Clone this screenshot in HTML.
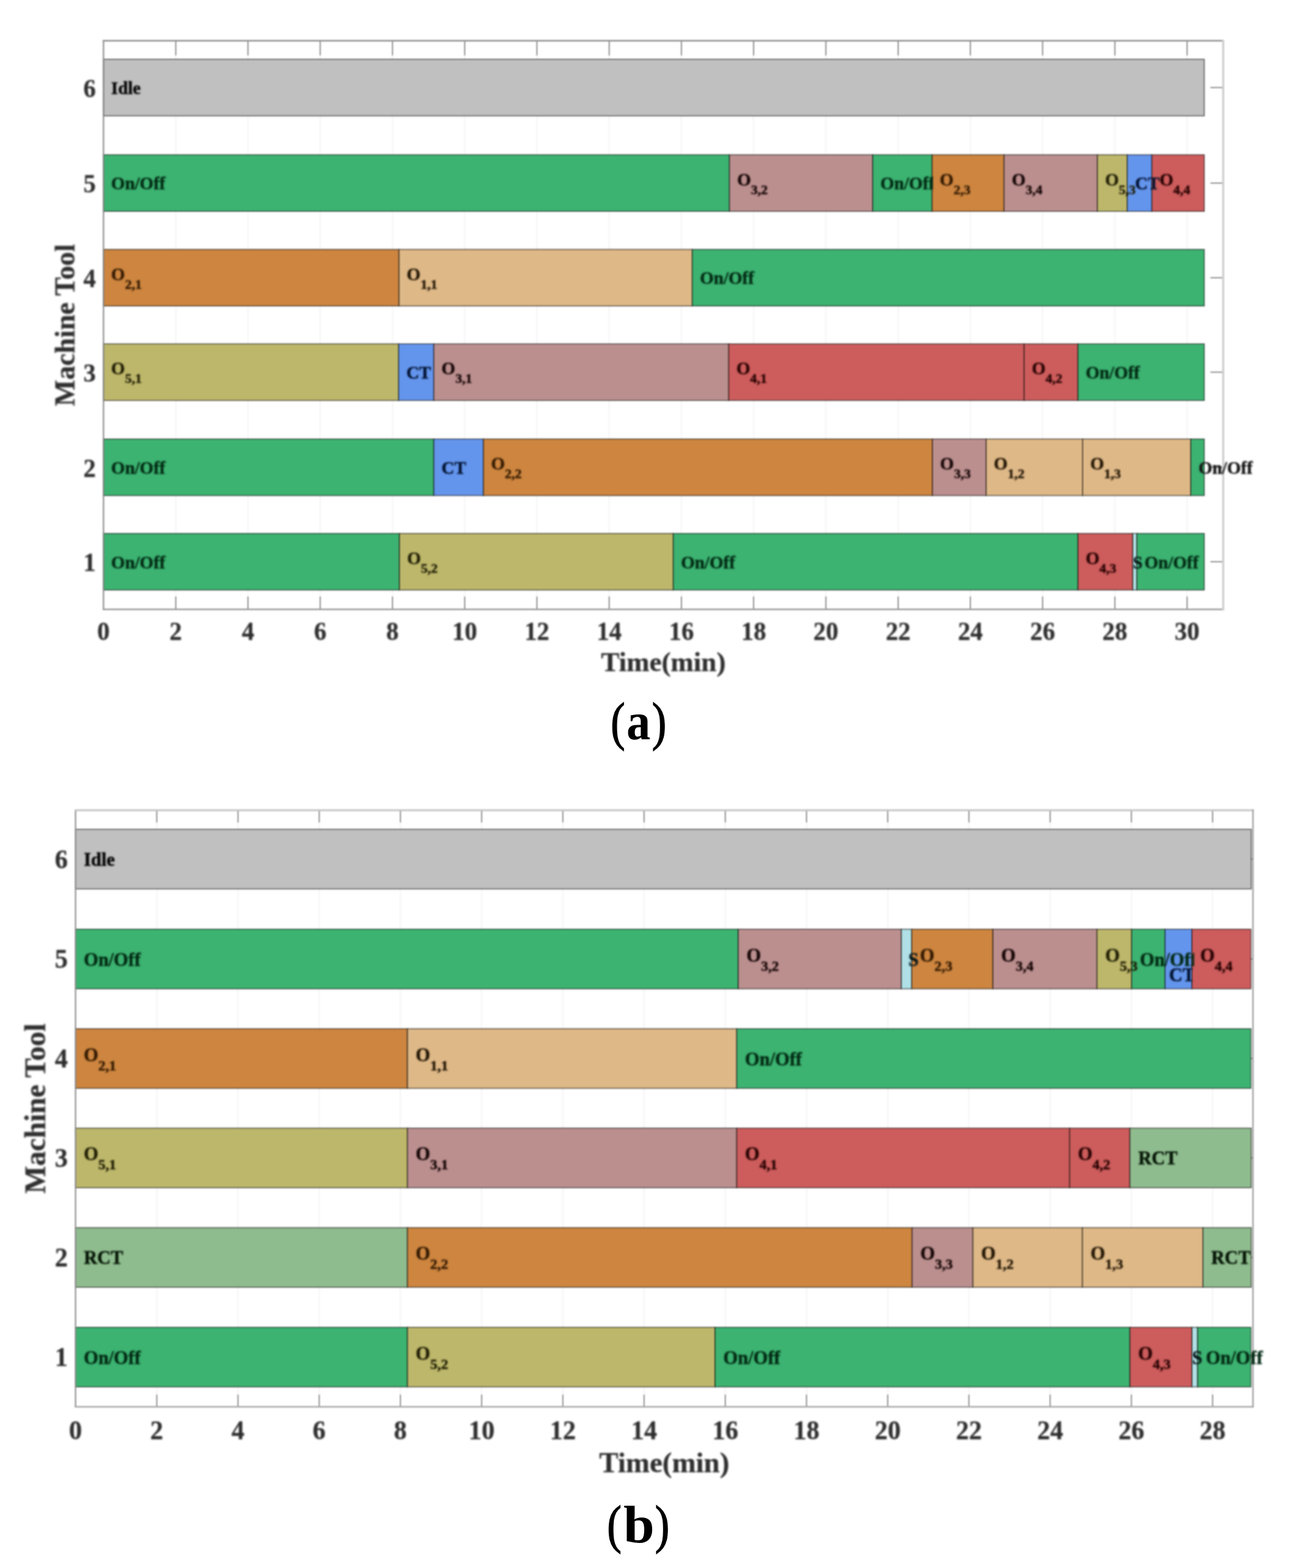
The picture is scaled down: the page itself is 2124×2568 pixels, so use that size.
<!DOCTYPE html>
<html lang="en">
<head>
<meta charset="utf-8">
<title>Gantt charts of machine tool scheduling</title>
<style>
html,body{margin:0;padding:0;background:#fff;}
body{width:2124px;height:2568px;overflow:hidden;}
svg{display:block;}
text{font-family:"Liberation Serif","DejaVu Serif",serif;}
.b{font-weight:bold;stroke-width:0.55px;stroke-linejoin:round;}
.t{font-weight:bold;fill:#2e2e2e;stroke:#2e2e2e;stroke-width:0.3px;}
.c{fill:#000;}
</style>
</head>
<body>
<svg width="2124" height="2568" viewBox="0 0 2124 2568">
<defs>
<filter id="soft" x="0" y="0" width="2124" height="2568" filterUnits="userSpaceOnUse" color-interpolation-filters="sRGB"><feGaussianBlur stdDeviation="1.0"/></filter>
<filter id="softer" x="0" y="0" width="2124" height="2568" filterUnits="userSpaceOnUse" color-interpolation-filters="sRGB"><feGaussianBlur stdDeviation="1.5"/></filter>
</defs>
<rect width="2124" height="2568" fill="#ffffff"/>
<g filter="url(#soft)">
<rect width="2124" height="2568" fill="#ffffff"/>
<g id="chart-a-shapes">
<line x1="287.8" y1="66.8" x2="287.8" y2="998.0" stroke="#f4f4f4" stroke-width="2"/>
<line x1="406.1" y1="66.8" x2="406.1" y2="998.0" stroke="#f4f4f4" stroke-width="2"/>
<line x1="524.4" y1="66.8" x2="524.4" y2="998.0" stroke="#f4f4f4" stroke-width="2"/>
<line x1="642.7" y1="66.8" x2="642.7" y2="998.0" stroke="#f4f4f4" stroke-width="2"/>
<line x1="761.0" y1="66.8" x2="761.0" y2="998.0" stroke="#f4f4f4" stroke-width="2"/>
<line x1="879.3" y1="66.8" x2="879.3" y2="998.0" stroke="#f4f4f4" stroke-width="2"/>
<line x1="997.6" y1="66.8" x2="997.6" y2="998.0" stroke="#f4f4f4" stroke-width="2"/>
<line x1="1115.9" y1="66.8" x2="1115.9" y2="998.0" stroke="#f4f4f4" stroke-width="2"/>
<line x1="1234.2" y1="66.8" x2="1234.2" y2="998.0" stroke="#f4f4f4" stroke-width="2"/>
<line x1="1352.5" y1="66.8" x2="1352.5" y2="998.0" stroke="#f4f4f4" stroke-width="2"/>
<line x1="1470.8" y1="66.8" x2="1470.8" y2="998.0" stroke="#f4f4f4" stroke-width="2"/>
<line x1="1589.1" y1="66.8" x2="1589.1" y2="998.0" stroke="#f4f4f4" stroke-width="2"/>
<line x1="1707.4" y1="66.8" x2="1707.4" y2="998.0" stroke="#f4f4f4" stroke-width="2"/>
<line x1="1825.7" y1="66.8" x2="1825.7" y2="998.0" stroke="#f4f4f4" stroke-width="2"/>
<line x1="1944.0" y1="66.8" x2="1944.0" y2="998.0" stroke="#f4f4f4" stroke-width="2"/>
<line x1="287.8" y1="998.0" x2="287.8" y2="977.0" stroke="#777" stroke-width="1.6"/>
<line x1="287.8" y1="66.8" x2="287.8" y2="90.8" stroke="#777" stroke-width="1.6"/>
<line x1="406.1" y1="998.0" x2="406.1" y2="977.0" stroke="#777" stroke-width="1.6"/>
<line x1="406.1" y1="66.8" x2="406.1" y2="90.8" stroke="#777" stroke-width="1.6"/>
<line x1="524.4" y1="998.0" x2="524.4" y2="977.0" stroke="#777" stroke-width="1.6"/>
<line x1="524.4" y1="66.8" x2="524.4" y2="90.8" stroke="#777" stroke-width="1.6"/>
<line x1="642.7" y1="998.0" x2="642.7" y2="977.0" stroke="#777" stroke-width="1.6"/>
<line x1="642.7" y1="66.8" x2="642.7" y2="90.8" stroke="#777" stroke-width="1.6"/>
<line x1="761.0" y1="998.0" x2="761.0" y2="977.0" stroke="#777" stroke-width="1.6"/>
<line x1="761.0" y1="66.8" x2="761.0" y2="90.8" stroke="#777" stroke-width="1.6"/>
<line x1="879.3" y1="998.0" x2="879.3" y2="977.0" stroke="#777" stroke-width="1.6"/>
<line x1="879.3" y1="66.8" x2="879.3" y2="90.8" stroke="#777" stroke-width="1.6"/>
<line x1="997.6" y1="998.0" x2="997.6" y2="977.0" stroke="#777" stroke-width="1.6"/>
<line x1="997.6" y1="66.8" x2="997.6" y2="90.8" stroke="#777" stroke-width="1.6"/>
<line x1="1115.9" y1="998.0" x2="1115.9" y2="977.0" stroke="#777" stroke-width="1.6"/>
<line x1="1115.9" y1="66.8" x2="1115.9" y2="90.8" stroke="#777" stroke-width="1.6"/>
<line x1="1234.2" y1="998.0" x2="1234.2" y2="977.0" stroke="#777" stroke-width="1.6"/>
<line x1="1234.2" y1="66.8" x2="1234.2" y2="90.8" stroke="#777" stroke-width="1.6"/>
<line x1="1352.5" y1="998.0" x2="1352.5" y2="977.0" stroke="#777" stroke-width="1.6"/>
<line x1="1352.5" y1="66.8" x2="1352.5" y2="90.8" stroke="#777" stroke-width="1.6"/>
<line x1="1470.8" y1="998.0" x2="1470.8" y2="977.0" stroke="#777" stroke-width="1.6"/>
<line x1="1470.8" y1="66.8" x2="1470.8" y2="90.8" stroke="#777" stroke-width="1.6"/>
<line x1="1589.1" y1="998.0" x2="1589.1" y2="977.0" stroke="#777" stroke-width="1.6"/>
<line x1="1589.1" y1="66.8" x2="1589.1" y2="90.8" stroke="#777" stroke-width="1.6"/>
<line x1="1707.4" y1="998.0" x2="1707.4" y2="977.0" stroke="#777" stroke-width="1.6"/>
<line x1="1707.4" y1="66.8" x2="1707.4" y2="90.8" stroke="#777" stroke-width="1.6"/>
<line x1="1825.7" y1="998.0" x2="1825.7" y2="977.0" stroke="#777" stroke-width="1.6"/>
<line x1="1825.7" y1="66.8" x2="1825.7" y2="90.8" stroke="#777" stroke-width="1.6"/>
<line x1="1944.0" y1="998.0" x2="1944.0" y2="977.0" stroke="#777" stroke-width="1.6"/>
<line x1="1944.0" y1="66.8" x2="1944.0" y2="90.8" stroke="#777" stroke-width="1.6"/>
<line x1="2003.2" y1="143.4" x2="1982.2" y2="143.4" stroke="#777" stroke-width="1.6"/>
<line x1="2003.2" y1="299.8" x2="1982.2" y2="299.8" stroke="#777" stroke-width="1.6"/>
<line x1="2003.2" y1="454.8" x2="1982.2" y2="454.8" stroke="#777" stroke-width="1.6"/>
<line x1="2003.2" y1="609.5" x2="1982.2" y2="609.5" stroke="#777" stroke-width="1.6"/>
<line x1="2003.2" y1="765.3" x2="1982.2" y2="765.3" stroke="#777" stroke-width="1.6"/>
<line x1="2003.2" y1="920.0" x2="1982.2" y2="920.0" stroke="#777" stroke-width="1.6"/>
<rect x="169.5" y="97.1" width="1802.7" height="92.6" fill="#c0c0c0" stroke="#000" stroke-opacity="0.5" stroke-width="1.8"/>
<rect x="169.5" y="253.5" width="1025.1" height="92.6" fill="#3cb371" stroke="#000" stroke-opacity="0.5" stroke-width="1.8"/>
<rect x="1194.6" y="253.5" width="234.6" height="92.6" fill="#bc8f8f" stroke="#000" stroke-opacity="0.5" stroke-width="1.8"/>
<rect x="1429.2" y="253.5" width="97.3" height="92.6" fill="#3cb371" stroke="#000" stroke-opacity="0.5" stroke-width="1.8"/>
<rect x="1526.5" y="253.5" width="117.8" height="92.6" fill="#cd853f" stroke="#000" stroke-opacity="0.5" stroke-width="1.8"/>
<rect x="1644.3" y="253.5" width="152.9" height="92.6" fill="#bc8f8f" stroke="#000" stroke-opacity="0.5" stroke-width="1.8"/>
<rect x="1797.2" y="253.5" width="48.9" height="92.6" fill="#bdb76b" stroke="#000" stroke-opacity="0.5" stroke-width="1.8"/>
<rect x="1846.1" y="253.5" width="40.3" height="92.6" fill="#6495ed" stroke="#000" stroke-opacity="0.5" stroke-width="1.8"/>
<rect x="1886.4" y="253.5" width="85.8" height="92.6" fill="#cd5c5c" stroke="#000" stroke-opacity="0.5" stroke-width="1.8"/>
<rect x="169.5" y="408.5" width="484.0" height="92.6" fill="#cd853f" stroke="#000" stroke-opacity="0.5" stroke-width="1.8"/>
<rect x="653.5" y="408.5" width="480.2" height="92.6" fill="#deb887" stroke="#000" stroke-opacity="0.5" stroke-width="1.8"/>
<rect x="1133.7" y="408.5" width="838.5" height="92.6" fill="#3cb371" stroke="#000" stroke-opacity="0.5" stroke-width="1.8"/>
<rect x="169.5" y="563.2" width="483.3" height="92.6" fill="#bdb76b" stroke="#000" stroke-opacity="0.5" stroke-width="1.8"/>
<rect x="652.8" y="563.2" width="57.7" height="92.6" fill="#6495ed" stroke="#000" stroke-opacity="0.5" stroke-width="1.8"/>
<rect x="710.5" y="563.2" width="482.9" height="92.6" fill="#bc8f8f" stroke="#000" stroke-opacity="0.5" stroke-width="1.8"/>
<rect x="1193.4" y="563.2" width="483.8" height="92.6" fill="#cd5c5c" stroke="#000" stroke-opacity="0.5" stroke-width="1.8"/>
<rect x="1677.2" y="563.2" width="88.1" height="92.6" fill="#cd5c5c" stroke="#000" stroke-opacity="0.5" stroke-width="1.8"/>
<rect x="1765.3" y="563.2" width="206.9" height="92.6" fill="#3cb371" stroke="#000" stroke-opacity="0.5" stroke-width="1.8"/>
<rect x="169.5" y="719.0" width="541.0" height="92.6" fill="#3cb371" stroke="#000" stroke-opacity="0.5" stroke-width="1.8"/>
<rect x="710.5" y="719.0" width="81.2" height="92.6" fill="#6495ed" stroke="#000" stroke-opacity="0.5" stroke-width="1.8"/>
<rect x="791.7" y="719.0" width="735.3" height="92.6" fill="#cd853f" stroke="#000" stroke-opacity="0.5" stroke-width="1.8"/>
<rect x="1527.0" y="719.0" width="88.0" height="92.6" fill="#bc8f8f" stroke="#000" stroke-opacity="0.5" stroke-width="1.8"/>
<rect x="1615.0" y="719.0" width="157.9" height="92.6" fill="#deb887" stroke="#000" stroke-opacity="0.5" stroke-width="1.8"/>
<rect x="1772.9" y="719.0" width="177.2" height="92.6" fill="#deb887" stroke="#000" stroke-opacity="0.5" stroke-width="1.8"/>
<rect x="1950.1" y="719.0" width="22.1" height="92.6" fill="#3cb371" stroke="#000" stroke-opacity="0.5" stroke-width="1.8"/>
<rect x="169.5" y="873.7" width="484.7" height="92.6" fill="#3cb371" stroke="#000" stroke-opacity="0.5" stroke-width="1.8"/>
<rect x="654.2" y="873.7" width="448.4" height="92.6" fill="#bdb76b" stroke="#000" stroke-opacity="0.5" stroke-width="1.8"/>
<rect x="1102.6" y="873.7" width="662.7" height="92.6" fill="#3cb371" stroke="#000" stroke-opacity="0.5" stroke-width="1.8"/>
<rect x="1765.3" y="873.7" width="89.8" height="92.6" fill="#cd5c5c" stroke="#000" stroke-opacity="0.5" stroke-width="1.8"/>
<rect x="1855.1" y="873.7" width="6.6" height="92.6" fill="#b0e0e6" stroke="#000" stroke-opacity="0.5" stroke-width="1.8"/>
<rect x="1861.7" y="873.7" width="110.5" height="92.6" fill="#3cb371" stroke="#000" stroke-opacity="0.5" stroke-width="1.8"/>
<line x1="169.5" y1="66.8" x2="169.5" y2="998.0" stroke="#8a8a8a" stroke-width="2.2" stroke-linecap="square"/>
<line x1="169.5" y1="66.8" x2="2003.2" y2="66.8" stroke="#8e8e8e" stroke-width="2.4" stroke-linecap="square"/>
<line x1="169.5" y1="998.0" x2="2003.2" y2="998.0" stroke="#9a9a9a" stroke-width="2.4" stroke-linecap="square"/>
<line x1="2003.2" y1="66.8" x2="2003.2" y2="998.0" stroke="#d0d0d0" stroke-width="3.6" stroke-linecap="square"/>
</g>
<g id="chart-b-shapes">
<line x1="256.7" y1="1327.0" x2="256.7" y2="2304.0" stroke="#f4f4f4" stroke-width="2"/>
<line x1="389.7" y1="1327.0" x2="389.7" y2="2304.0" stroke="#f4f4f4" stroke-width="2"/>
<line x1="522.7" y1="1327.0" x2="522.7" y2="2304.0" stroke="#f4f4f4" stroke-width="2"/>
<line x1="655.7" y1="1327.0" x2="655.7" y2="2304.0" stroke="#f4f4f4" stroke-width="2"/>
<line x1="788.7" y1="1327.0" x2="788.7" y2="2304.0" stroke="#f4f4f4" stroke-width="2"/>
<line x1="921.7" y1="1327.0" x2="921.7" y2="2304.0" stroke="#f4f4f4" stroke-width="2"/>
<line x1="1054.7" y1="1327.0" x2="1054.7" y2="2304.0" stroke="#f4f4f4" stroke-width="2"/>
<line x1="1187.7" y1="1327.0" x2="1187.7" y2="2304.0" stroke="#f4f4f4" stroke-width="2"/>
<line x1="1320.7" y1="1327.0" x2="1320.7" y2="2304.0" stroke="#f4f4f4" stroke-width="2"/>
<line x1="1453.7" y1="1327.0" x2="1453.7" y2="2304.0" stroke="#f4f4f4" stroke-width="2"/>
<line x1="1586.7" y1="1327.0" x2="1586.7" y2="2304.0" stroke="#f4f4f4" stroke-width="2"/>
<line x1="1719.7" y1="1327.0" x2="1719.7" y2="2304.0" stroke="#f4f4f4" stroke-width="2"/>
<line x1="1852.7" y1="1327.0" x2="1852.7" y2="2304.0" stroke="#f4f4f4" stroke-width="2"/>
<line x1="1985.7" y1="1327.0" x2="1985.7" y2="2304.0" stroke="#f4f4f4" stroke-width="2"/>
<line x1="256.7" y1="2304.0" x2="256.7" y2="2284.0" stroke="#777" stroke-width="1.6"/>
<line x1="256.7" y1="1327.0" x2="256.7" y2="1347.0" stroke="#777" stroke-width="1.6"/>
<line x1="389.7" y1="2304.0" x2="389.7" y2="2284.0" stroke="#777" stroke-width="1.6"/>
<line x1="389.7" y1="1327.0" x2="389.7" y2="1347.0" stroke="#777" stroke-width="1.6"/>
<line x1="522.7" y1="2304.0" x2="522.7" y2="2284.0" stroke="#777" stroke-width="1.6"/>
<line x1="522.7" y1="1327.0" x2="522.7" y2="1347.0" stroke="#777" stroke-width="1.6"/>
<line x1="655.7" y1="2304.0" x2="655.7" y2="2284.0" stroke="#777" stroke-width="1.6"/>
<line x1="655.7" y1="1327.0" x2="655.7" y2="1347.0" stroke="#777" stroke-width="1.6"/>
<line x1="788.7" y1="2304.0" x2="788.7" y2="2284.0" stroke="#777" stroke-width="1.6"/>
<line x1="788.7" y1="1327.0" x2="788.7" y2="1347.0" stroke="#777" stroke-width="1.6"/>
<line x1="921.7" y1="2304.0" x2="921.7" y2="2284.0" stroke="#777" stroke-width="1.6"/>
<line x1="921.7" y1="1327.0" x2="921.7" y2="1347.0" stroke="#777" stroke-width="1.6"/>
<line x1="1054.7" y1="2304.0" x2="1054.7" y2="2284.0" stroke="#777" stroke-width="1.6"/>
<line x1="1054.7" y1="1327.0" x2="1054.7" y2="1347.0" stroke="#777" stroke-width="1.6"/>
<line x1="1187.7" y1="2304.0" x2="1187.7" y2="2284.0" stroke="#777" stroke-width="1.6"/>
<line x1="1187.7" y1="1327.0" x2="1187.7" y2="1347.0" stroke="#777" stroke-width="1.6"/>
<line x1="1320.7" y1="2304.0" x2="1320.7" y2="2284.0" stroke="#777" stroke-width="1.6"/>
<line x1="1320.7" y1="1327.0" x2="1320.7" y2="1347.0" stroke="#777" stroke-width="1.6"/>
<line x1="1453.7" y1="2304.0" x2="1453.7" y2="2284.0" stroke="#777" stroke-width="1.6"/>
<line x1="1453.7" y1="1327.0" x2="1453.7" y2="1347.0" stroke="#777" stroke-width="1.6"/>
<line x1="1586.7" y1="2304.0" x2="1586.7" y2="2284.0" stroke="#777" stroke-width="1.6"/>
<line x1="1586.7" y1="1327.0" x2="1586.7" y2="1347.0" stroke="#777" stroke-width="1.6"/>
<line x1="1719.7" y1="2304.0" x2="1719.7" y2="2284.0" stroke="#777" stroke-width="1.6"/>
<line x1="1719.7" y1="1327.0" x2="1719.7" y2="1347.0" stroke="#777" stroke-width="1.6"/>
<line x1="1852.7" y1="2304.0" x2="1852.7" y2="2284.0" stroke="#777" stroke-width="1.6"/>
<line x1="1852.7" y1="1327.0" x2="1852.7" y2="1347.0" stroke="#777" stroke-width="1.6"/>
<line x1="1985.7" y1="2304.0" x2="1985.7" y2="2284.0" stroke="#777" stroke-width="1.6"/>
<line x1="1985.7" y1="1327.0" x2="1985.7" y2="1347.0" stroke="#777" stroke-width="1.6"/>
<line x1="2051.9" y1="1407.0" x2="2031.9" y2="1407.0" stroke="#777" stroke-width="1.6"/>
<line x1="2051.9" y1="1570.6" x2="2031.9" y2="1570.6" stroke="#777" stroke-width="1.6"/>
<line x1="2051.9" y1="1733.6" x2="2031.9" y2="1733.6" stroke="#777" stroke-width="1.6"/>
<line x1="2051.9" y1="1896.4" x2="2031.9" y2="1896.4" stroke="#777" stroke-width="1.6"/>
<line x1="2051.9" y1="2059.4" x2="2031.9" y2="2059.4" stroke="#777" stroke-width="1.6"/>
<line x1="2051.9" y1="2222.6" x2="2031.9" y2="2222.6" stroke="#777" stroke-width="1.6"/>
<rect x="123.7" y="1358.2" width="1925.3" height="97.6" fill="#c0c0c0" stroke="#000" stroke-opacity="0.5" stroke-width="1.8"/>
<rect x="123.7" y="1521.8" width="1085.3" height="97.6" fill="#3cb371" stroke="#000" stroke-opacity="0.5" stroke-width="1.8"/>
<rect x="1209.0" y="1521.8" width="267.1" height="97.6" fill="#bc8f8f" stroke="#000" stroke-opacity="0.5" stroke-width="1.8"/>
<rect x="1476.1" y="1521.8" width="17.0" height="97.6" fill="#b0e0e6" stroke="#000" stroke-opacity="0.5" stroke-width="1.8"/>
<rect x="1493.1" y="1521.8" width="132.9" height="97.6" fill="#cd853f" stroke="#000" stroke-opacity="0.5" stroke-width="1.8"/>
<rect x="1626.0" y="1521.8" width="170.5" height="97.6" fill="#bc8f8f" stroke="#000" stroke-opacity="0.5" stroke-width="1.8"/>
<rect x="1796.5" y="1521.8" width="56.7" height="97.6" fill="#bdb76b" stroke="#000" stroke-opacity="0.5" stroke-width="1.8"/>
<rect x="1853.2" y="1521.8" width="54.7" height="97.6" fill="#3cb371" stroke="#000" stroke-opacity="0.5" stroke-width="1.8"/>
<rect x="1907.9" y="1521.8" width="44.0" height="97.6" fill="#6495ed" stroke="#000" stroke-opacity="0.5" stroke-width="1.8"/>
<rect x="1951.9" y="1521.8" width="96.6" height="97.6" fill="#cd5c5c" stroke="#000" stroke-opacity="0.5" stroke-width="1.8"/>
<rect x="123.7" y="1684.8" width="543.6" height="97.6" fill="#cd853f" stroke="#000" stroke-opacity="0.5" stroke-width="1.8"/>
<rect x="667.3" y="1684.8" width="539.2" height="97.6" fill="#deb887" stroke="#000" stroke-opacity="0.5" stroke-width="1.8"/>
<rect x="1206.5" y="1684.8" width="842.0" height="97.6" fill="#3cb371" stroke="#000" stroke-opacity="0.5" stroke-width="1.8"/>
<rect x="123.7" y="1847.6" width="543.6" height="97.6" fill="#bdb76b" stroke="#000" stroke-opacity="0.5" stroke-width="1.8"/>
<rect x="667.3" y="1847.6" width="539.2" height="97.6" fill="#bc8f8f" stroke="#000" stroke-opacity="0.5" stroke-width="1.8"/>
<rect x="1206.5" y="1847.6" width="545.2" height="97.6" fill="#cd5c5c" stroke="#000" stroke-opacity="0.5" stroke-width="1.8"/>
<rect x="1751.7" y="1847.6" width="98.7" height="97.6" fill="#cd5c5c" stroke="#000" stroke-opacity="0.5" stroke-width="1.8"/>
<rect x="1850.4" y="1847.6" width="198.6" height="97.6" fill="#8fbc8f" stroke="#000" stroke-opacity="0.5" stroke-width="1.8"/>
<rect x="123.7" y="2010.6" width="543.6" height="97.6" fill="#8fbc8f" stroke="#000" stroke-opacity="0.5" stroke-width="1.8"/>
<rect x="667.3" y="2010.6" width="826.4" height="97.6" fill="#cd853f" stroke="#000" stroke-opacity="0.5" stroke-width="1.8"/>
<rect x="1493.7" y="2010.6" width="99.6" height="97.6" fill="#bc8f8f" stroke="#000" stroke-opacity="0.5" stroke-width="1.8"/>
<rect x="1593.3" y="2010.6" width="179.3" height="97.6" fill="#deb887" stroke="#000" stroke-opacity="0.5" stroke-width="1.8"/>
<rect x="1772.6" y="2010.6" width="197.5" height="97.6" fill="#deb887" stroke="#000" stroke-opacity="0.5" stroke-width="1.8"/>
<rect x="1970.1" y="2010.6" width="78.9" height="97.6" fill="#8fbc8f" stroke="#000" stroke-opacity="0.5" stroke-width="1.8"/>
<rect x="123.7" y="2173.8" width="543.6" height="97.6" fill="#3cb371" stroke="#000" stroke-opacity="0.5" stroke-width="1.8"/>
<rect x="667.3" y="2173.8" width="503.7" height="97.6" fill="#bdb76b" stroke="#000" stroke-opacity="0.5" stroke-width="1.8"/>
<rect x="1171.0" y="2173.8" width="679.4" height="97.6" fill="#3cb371" stroke="#000" stroke-opacity="0.5" stroke-width="1.8"/>
<rect x="1850.4" y="2173.8" width="101.6" height="97.6" fill="#cd5c5c" stroke="#000" stroke-opacity="0.5" stroke-width="1.8"/>
<rect x="1952.0" y="2173.8" width="9.2" height="97.6" fill="#b0e0e6" stroke="#000" stroke-opacity="0.5" stroke-width="1.8"/>
<rect x="1961.2" y="2173.8" width="87.3" height="97.6" fill="#3cb371" stroke="#000" stroke-opacity="0.5" stroke-width="1.8"/>
<line x1="123.7" y1="1327.0" x2="123.7" y2="2304.0" stroke="#8e8e8e" stroke-width="2.2" stroke-linecap="square"/>
<line x1="123.7" y1="1327.0" x2="2051.9" y2="1327.0" stroke="#c4c4c4" stroke-width="3.0" stroke-linecap="square"/>
<line x1="123.7" y1="2304.0" x2="2051.9" y2="2304.0" stroke="#a8a8a8" stroke-width="2.6" stroke-linecap="square"/>
<line x1="2051.9" y1="1327.0" x2="2051.9" y2="2304.0" stroke="#a0a0a0" stroke-width="2.4" stroke-linecap="square"/>
</g>
</g>
<g filter="url(#softer)">
<g id="chart-a-text">
<text x="182.1" y="153.9" font-size="29" class="b" fill="#060606" stroke="#060606">Idle</text>
<text x="182.1" y="310.3" font-size="29" class="b" fill="#022913" stroke="#022913">On/Off</text>
<text x="1207.2" y="303.5" font-size="29" class="b" fill="#140505" stroke="#140505">O<tspan dy="14" font-size="22">3,2</tspan></text>
<clipPath id="clip-a-5-1429"><rect x="0" y="207.2" width="1527.5" height="185.2"/></clipPath>
<text x="1441.8" y="310.3" font-size="29" class="b" fill="#022913" stroke="#022913" clip-path="url(#clip-a-5-1429)">On/Off</text>
<text x="1539.1" y="303.5" font-size="29" class="b" fill="#311902" stroke="#311902">O<tspan dy="14" font-size="22">2,3</tspan></text>
<text x="1656.9" y="303.5" font-size="29" class="b" fill="#140505" stroke="#140505">O<tspan dy="14" font-size="22">3,4</tspan></text>
<text x="1809.8" y="303.5" font-size="29" class="b" fill="#1f1d04" stroke="#1f1d04">O<tspan dy="14" font-size="22">5,3</tspan></text>
<text x="1858.7" y="310.3" font-size="29" class="b" fill="#031331" stroke="#031331">CT</text>
<text x="1899.0" y="303.5" font-size="29" class="b" fill="#280303" stroke="#280303">O<tspan dy="14" font-size="22">4,4</tspan></text>
<text x="182.1" y="458.5" font-size="29" class="b" fill="#311902" stroke="#311902">O<tspan dy="14" font-size="22">2,1</tspan></text>
<text x="666.1" y="458.5" font-size="29" class="b" fill="#211504" stroke="#211504">O<tspan dy="14" font-size="22">1,1</tspan></text>
<text x="1146.3" y="465.3" font-size="29" class="b" fill="#022913" stroke="#022913">On/Off</text>
<text x="182.1" y="613.2" font-size="29" class="b" fill="#1f1d04" stroke="#1f1d04">O<tspan dy="14" font-size="22">5,1</tspan></text>
<text x="665.4" y="620.0" font-size="29" class="b" fill="#031331" stroke="#031331">CT</text>
<text x="723.1" y="613.2" font-size="29" class="b" fill="#140505" stroke="#140505">O<tspan dy="14" font-size="22">3,1</tspan></text>
<text x="1206.0" y="613.2" font-size="29" class="b" fill="#280303" stroke="#280303">O<tspan dy="14" font-size="22">4,1</tspan></text>
<text x="1689.8" y="613.2" font-size="29" class="b" fill="#280303" stroke="#280303">O<tspan dy="14" font-size="22">4,2</tspan></text>
<text x="1777.9" y="620.0" font-size="29" class="b" fill="#022913" stroke="#022913">On/Off</text>
<text x="182.1" y="775.8" font-size="29" class="b" fill="#022913" stroke="#022913">On/Off</text>
<text x="723.1" y="775.8" font-size="29" class="b" fill="#031331" stroke="#031331">CT</text>
<text x="804.3" y="769.0" font-size="29" class="b" fill="#311902" stroke="#311902">O<tspan dy="14" font-size="22">2,2</tspan></text>
<text x="1539.6" y="769.0" font-size="29" class="b" fill="#140505" stroke="#140505">O<tspan dy="14" font-size="22">3,3</tspan></text>
<text x="1627.6" y="769.0" font-size="29" class="b" fill="#211504" stroke="#211504">O<tspan dy="14" font-size="22">1,2</tspan></text>
<text x="1785.5" y="769.0" font-size="29" class="b" fill="#211504" stroke="#211504">O<tspan dy="14" font-size="22">1,3</tspan></text>
<clipPath id="clip-a-2-1950"><rect x="0" y="672.7" width="3000.0" height="185.2"/></clipPath>
<text x="1962.7" y="775.8" font-size="29" class="b" fill="#141414" stroke="#141414" clip-path="url(#clip-a-2-1950)">On/Off</text>
<text x="182.1" y="930.5" font-size="29" class="b" fill="#022913" stroke="#022913">On/Off</text>
<text x="666.8" y="923.7" font-size="29" class="b" fill="#1f1d04" stroke="#1f1d04">O<tspan dy="14" font-size="22">5,2</tspan></text>
<text x="1115.2" y="930.5" font-size="29" class="b" fill="#022913" stroke="#022913">On/Off</text>
<text x="1777.9" y="923.7" font-size="29" class="b" fill="#280303" stroke="#280303">O<tspan dy="14" font-size="22">4,3</tspan></text>
<text x="1855.1" y="930.5" font-size="29" class="b" fill="#061618" stroke="#061618">S</text>
<text x="1874.3" y="930.5" font-size="29" class="b" fill="#022913" stroke="#022913">On/Off</text>
<text transform="translate(169.5,1048.0) scale(0.96,1)" font-size="42.5" text-anchor="middle" class="t">0</text>
<text transform="translate(287.8,1048.0) scale(0.96,1)" font-size="42.5" text-anchor="middle" class="t">2</text>
<text transform="translate(406.1,1048.0) scale(0.96,1)" font-size="42.5" text-anchor="middle" class="t">4</text>
<text transform="translate(524.4,1048.0) scale(0.96,1)" font-size="42.5" text-anchor="middle" class="t">6</text>
<text transform="translate(642.7,1048.0) scale(0.96,1)" font-size="42.5" text-anchor="middle" class="t">8</text>
<text transform="translate(761.0,1048.0) scale(0.96,1)" font-size="42.5" text-anchor="middle" class="t">10</text>
<text transform="translate(879.3,1048.0) scale(0.96,1)" font-size="42.5" text-anchor="middle" class="t">12</text>
<text transform="translate(997.6,1048.0) scale(0.96,1)" font-size="42.5" text-anchor="middle" class="t">14</text>
<text transform="translate(1115.9,1048.0) scale(0.96,1)" font-size="42.5" text-anchor="middle" class="t">16</text>
<text transform="translate(1234.2,1048.0) scale(0.96,1)" font-size="42.5" text-anchor="middle" class="t">18</text>
<text transform="translate(1352.5,1048.0) scale(0.96,1)" font-size="42.5" text-anchor="middle" class="t">20</text>
<text transform="translate(1470.8,1048.0) scale(0.96,1)" font-size="42.5" text-anchor="middle" class="t">22</text>
<text transform="translate(1589.1,1048.0) scale(0.96,1)" font-size="42.5" text-anchor="middle" class="t">24</text>
<text transform="translate(1707.4,1048.0) scale(0.96,1)" font-size="42.5" text-anchor="middle" class="t">26</text>
<text transform="translate(1825.7,1048.0) scale(0.96,1)" font-size="42.5" text-anchor="middle" class="t">28</text>
<text transform="translate(1944.0,1048.0) scale(0.96,1)" font-size="42.5" text-anchor="middle" class="t">30</text>
<text transform="translate(157,158.6) scale(0.96,1)" font-size="42.5" text-anchor="end" class="t">6</text>
<text transform="translate(157,315.0) scale(0.96,1)" font-size="42.5" text-anchor="end" class="t">5</text>
<text transform="translate(157,470.0) scale(0.96,1)" font-size="42.5" text-anchor="end" class="t">4</text>
<text transform="translate(157,624.7) scale(0.96,1)" font-size="42.5" text-anchor="end" class="t">3</text>
<text transform="translate(157,780.5) scale(0.96,1)" font-size="42.5" text-anchor="end" class="t">2</text>
<text transform="translate(157,935.2) scale(0.96,1)" font-size="42.5" text-anchor="end" class="t">1</text>
<text x="1086.3" y="1099" font-size="45" text-anchor="middle" class="t">Time(min)</text>
<text transform="translate(121.8,532.4) rotate(-90)" font-size="45.7" text-anchor="middle" class="t">Machine Tool</text>
</g>
<g id="chart-b-text">
<text x="137.2" y="1418.0" font-size="30.5" class="b" fill="#060606" stroke="#060606">Idle</text>
<text x="137.2" y="1581.6" font-size="30.5" class="b" fill="#022913" stroke="#022913">On/Off</text>
<text x="1222.5" y="1574.6" font-size="30.5" class="b" fill="#140505" stroke="#140505">O<tspan dy="15" font-size="23.5">3,2</tspan></text>
<text x="1487.6" y="1581.6" font-size="30.5" class="b" fill="#061618" stroke="#061618">S</text>
<text x="1506.6" y="1574.6" font-size="30.5" class="b" fill="#311902" stroke="#311902">O<tspan dy="15" font-size="23.5">2,3</tspan></text>
<text x="1639.5" y="1574.6" font-size="30.5" class="b" fill="#140505" stroke="#140505">O<tspan dy="15" font-size="23.5">3,4</tspan></text>
<text x="1810.0" y="1574.6" font-size="30.5" class="b" fill="#1f1d04" stroke="#1f1d04">O<tspan dy="15" font-size="23.5">5,3</tspan></text>
<clipPath id="clip-b-5-1853"><rect x="0" y="1473.0" width="1955.5" height="195.2"/></clipPath>
<text x="1866.7" y="1581.6" font-size="30.5" class="b" fill="#022913" stroke="#022913" clip-path="url(#clip-b-5-1853)">On/Off</text>
<clipPath id="clip-b-5-1907"><rect x="0" y="1473.0" width="1952.5" height="195.2"/></clipPath>
<text x="1914.4" y="1606.6" font-size="30.5" class="b" fill="#031331" stroke="#031331" clip-path="url(#clip-b-5-1907)">CT</text>
<text x="1965.4" y="1574.6" font-size="30.5" class="b" fill="#280303" stroke="#280303">O<tspan dy="15" font-size="23.5">4,4</tspan></text>
<text x="137.2" y="1737.6" font-size="30.5" class="b" fill="#311902" stroke="#311902">O<tspan dy="15" font-size="23.5">2,1</tspan></text>
<text x="680.8" y="1737.6" font-size="30.5" class="b" fill="#211504" stroke="#211504">O<tspan dy="15" font-size="23.5">1,1</tspan></text>
<text x="1220.0" y="1744.6" font-size="30.5" class="b" fill="#022913" stroke="#022913">On/Off</text>
<text x="137.2" y="1900.4" font-size="30.5" class="b" fill="#1f1d04" stroke="#1f1d04">O<tspan dy="15" font-size="23.5">5,1</tspan></text>
<text x="680.8" y="1900.4" font-size="30.5" class="b" fill="#140505" stroke="#140505">O<tspan dy="15" font-size="23.5">3,1</tspan></text>
<text x="1220.0" y="1900.4" font-size="30.5" class="b" fill="#280303" stroke="#280303">O<tspan dy="15" font-size="23.5">4,1</tspan></text>
<text x="1765.2" y="1900.4" font-size="30.5" class="b" fill="#280303" stroke="#280303">O<tspan dy="15" font-size="23.5">4,2</tspan></text>
<text x="1863.9" y="1907.4" font-size="30.5" class="b" fill="#051405" stroke="#051405">RCT</text>
<text x="137.2" y="2070.4" font-size="30.5" class="b" fill="#051405" stroke="#051405">RCT</text>
<text x="680.8" y="2063.4" font-size="30.5" class="b" fill="#311902" stroke="#311902">O<tspan dy="15" font-size="23.5">2,2</tspan></text>
<text x="1507.2" y="2063.4" font-size="30.5" class="b" fill="#140505" stroke="#140505">O<tspan dy="15" font-size="23.5">3,3</tspan></text>
<text x="1606.8" y="2063.4" font-size="30.5" class="b" fill="#211504" stroke="#211504">O<tspan dy="15" font-size="23.5">1,2</tspan></text>
<text x="1786.1" y="2063.4" font-size="30.5" class="b" fill="#211504" stroke="#211504">O<tspan dy="15" font-size="23.5">1,3</tspan></text>
<text x="1983.6" y="2070.4" font-size="30.5" class="b" fill="#051405" stroke="#051405">RCT</text>
<text x="137.2" y="2233.6" font-size="30.5" class="b" fill="#022913" stroke="#022913">On/Off</text>
<text x="680.8" y="2226.6" font-size="30.5" class="b" fill="#1f1d04" stroke="#1f1d04">O<tspan dy="15" font-size="23.5">5,2</tspan></text>
<text x="1184.5" y="2233.6" font-size="30.5" class="b" fill="#022913" stroke="#022913">On/Off</text>
<text x="1863.9" y="2226.6" font-size="30.5" class="b" fill="#280303" stroke="#280303">O<tspan dy="15" font-size="23.5">4,3</tspan></text>
<text x="1952.0" y="2233.6" font-size="30.5" class="b" fill="#061618" stroke="#061618">S</text>
<text x="1974.7" y="2233.6" font-size="30.5" class="b" fill="#022913" stroke="#022913">On/Off</text>
<text transform="translate(123.7,2357.2) scale(0.96,1)" font-size="44.3" text-anchor="middle" class="t">0</text>
<text transform="translate(256.7,2357.2) scale(0.96,1)" font-size="44.3" text-anchor="middle" class="t">2</text>
<text transform="translate(389.7,2357.2) scale(0.96,1)" font-size="44.3" text-anchor="middle" class="t">4</text>
<text transform="translate(522.7,2357.2) scale(0.96,1)" font-size="44.3" text-anchor="middle" class="t">6</text>
<text transform="translate(655.7,2357.2) scale(0.96,1)" font-size="44.3" text-anchor="middle" class="t">8</text>
<text transform="translate(788.7,2357.2) scale(0.96,1)" font-size="44.3" text-anchor="middle" class="t">10</text>
<text transform="translate(921.7,2357.2) scale(0.96,1)" font-size="44.3" text-anchor="middle" class="t">12</text>
<text transform="translate(1054.7,2357.2) scale(0.96,1)" font-size="44.3" text-anchor="middle" class="t">14</text>
<text transform="translate(1187.7,2357.2) scale(0.96,1)" font-size="44.3" text-anchor="middle" class="t">16</text>
<text transform="translate(1320.7,2357.2) scale(0.96,1)" font-size="44.3" text-anchor="middle" class="t">18</text>
<text transform="translate(1453.7,2357.2) scale(0.96,1)" font-size="44.3" text-anchor="middle" class="t">20</text>
<text transform="translate(1586.7,2357.2) scale(0.96,1)" font-size="44.3" text-anchor="middle" class="t">22</text>
<text transform="translate(1719.7,2357.2) scale(0.96,1)" font-size="44.3" text-anchor="middle" class="t">24</text>
<text transform="translate(1852.7,2357.2) scale(0.96,1)" font-size="44.3" text-anchor="middle" class="t">26</text>
<text transform="translate(1985.7,2357.2) scale(0.96,1)" font-size="44.3" text-anchor="middle" class="t">28</text>
<text transform="translate(111,1421.6) scale(0.96,1)" font-size="44.3" text-anchor="end" class="t">6</text>
<text transform="translate(111,1585.2) scale(0.96,1)" font-size="44.3" text-anchor="end" class="t">5</text>
<text transform="translate(111,1748.2) scale(0.96,1)" font-size="44.3" text-anchor="end" class="t">4</text>
<text transform="translate(111,1911.0) scale(0.96,1)" font-size="44.3" text-anchor="end" class="t">3</text>
<text transform="translate(111,2074.0) scale(0.96,1)" font-size="44.3" text-anchor="end" class="t">2</text>
<text transform="translate(111,2237.2) scale(0.96,1)" font-size="44.3" text-anchor="end" class="t">1</text>
<text x="1087.8" y="2410.7" font-size="47" text-anchor="middle" class="t">Time(min)</text>
<text transform="translate(73.8,1815.5) rotate(-90)" font-size="48" text-anchor="middle" class="t">Machine Tool</text>
</g>
</g>
<g id="captions">
<text class="c" y="1211.4" font-size="87"><tspan x="1000.3" textLength="23.18" lengthAdjust="spacingAndGlyphs" stroke="#000" stroke-width="1.6">(</tspan><tspan x="1026.0" textLength="39.15" lengthAdjust="spacingAndGlyphs" font-weight="bold">a</tspan><tspan x="1067.7" textLength="23.47" lengthAdjust="spacingAndGlyphs" stroke="#000" stroke-width="1.6">)</tspan></text>
<text class="c" y="2525.7" font-size="87"><tspan x="994.3" textLength="23.47" lengthAdjust="spacingAndGlyphs" stroke="#000" stroke-width="1.6">(</tspan><tspan x="1021.0" textLength="50.81" lengthAdjust="spacingAndGlyphs" font-weight="bold">b</tspan><tspan x="1072.7" textLength="23.47" lengthAdjust="spacingAndGlyphs" stroke="#000" stroke-width="1.6">)</tspan></text>
</g>
</svg>
</body>
</html>
